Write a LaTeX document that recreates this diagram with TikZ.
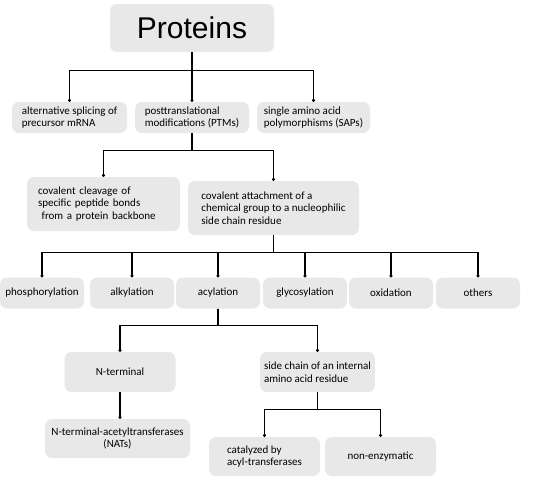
\documentclass[tikz,border=0pt]{standalone}
\usepackage{fontspec}
\setmainfont{Carlito}
\newfontfamily\titlefont{Liberation Sans}
\usetikzlibrary{arrows.meta}
\definecolor{boxgray}{RGB}{232,232,232}
\tikzset{
  box/.style={fill=boxgray, rounded corners=7pt, inner xsep=4pt, inner ysep=2pt, align=left,
    font=\fontsize{11}{12.5}\selectfont},
  leaf/.style={box, minimum width=84pt, minimum height=31pt, align=center, inner xsep=2pt},
  link/.style={line width=1.3pt, -{Circle[length=2.8pt]}}
}

\begin{document}
\begin{tikzpicture}[x=1pt,y=-1pt]
\useasboundingbox (0,0) rectangle (550,480);
% one unit is one pixel of the 550 x 480 figure
\node[box, minimum width=164pt, minimum height=48pt, align=center, font=\titlefont\fontsize{30}{32}\selectfont] (proteins) at (192,28) {Proteins};

\node[box, minimum width=115pt, minimum height=31pt] (splicing) at (69.5,117.5) {alternative splicing of\\precursor mRNA};
\node[box, minimum width=114pt, minimum height=31pt] (ptm) at (192,117.5) {posttranslational\\modifications (PTMs)};
\node[box, minimum width=113pt, minimum height=31pt] (sap) at (313.5,117.5) {single amino acid\\polymorphisms (SAPs)};

\node[box, inner xsep=11pt, text width=131pt, minimum height=54pt] (cleavage) at (103.5,204) {covalent cleavage of\\specific peptide bonds\\\ from a protein backbone};
\node[box, minimum width=171pt, minimum height=54pt] (attachment) at (273.5,208) {covalent attachment of a\\chemical group to a nucleophilic\\side chain residue};

\node[leaf] (phospho) at (42,293) {phosphorylation};
\node[leaf] (alkyl) at (132,293) {alkylation};
\node[leaf] (acyl) at (218,293) {acylation};
\node[leaf] (glyco) at (305,293) {glycosylation};
\node[leaf] (oxid) at (391,293) {oxidation};
\node[leaf] (others) at (478,293) {others};

\node[box, minimum width=111pt, minimum height=40pt, align=center] (nterm) at (120,372) {N-terminal};
\node[box, minimum width=111pt, minimum height=40pt] (sidechain) at (317.5,372) {side chain of an internal\\amino acid residue};

\node[box, minimum width=145pt, minimum height=39pt, align=center] (nats) at (117.5,438.5) {N-terminal-acetyltransferases\\(NATs)};
\node[box, minimum width=111pt, minimum height=39pt] (catalyzed) at (264.5,456.5) {catalyzed by\\acyl-transferases};
\node[box, minimum width=111pt, minimum height=39pt, align=center] (nonenz) at (380.5,456.5) {non-enzymatic};

\foreach \n in {splicing,ptm,sap}
  \draw[link] (proteins.south) -- ++(0,18) -| (\n.north);
\foreach \n in {cleavage,attachment}
  \draw[link] (ptm.south) -- ++(0,17) -| (\n.north);
\foreach \n in {phospho,alkyl,acyl,glyco,oxid,others}
  \draw[link] (attachment.south) -- ++(0,17) -| (\n.north);
\foreach \n in {nterm,sidechain}
  \draw[link] (acyl.south) -- ++(0,17) -| (\n.north);
\draw[link] (nterm.south) -- (nterm.south |- nats.north);
\foreach \n in {catalyzed,nonenz}
  \draw[link] (sidechain.south) -- ++(0,17) -| (\n.north);
\end{tikzpicture}
\end{document}
